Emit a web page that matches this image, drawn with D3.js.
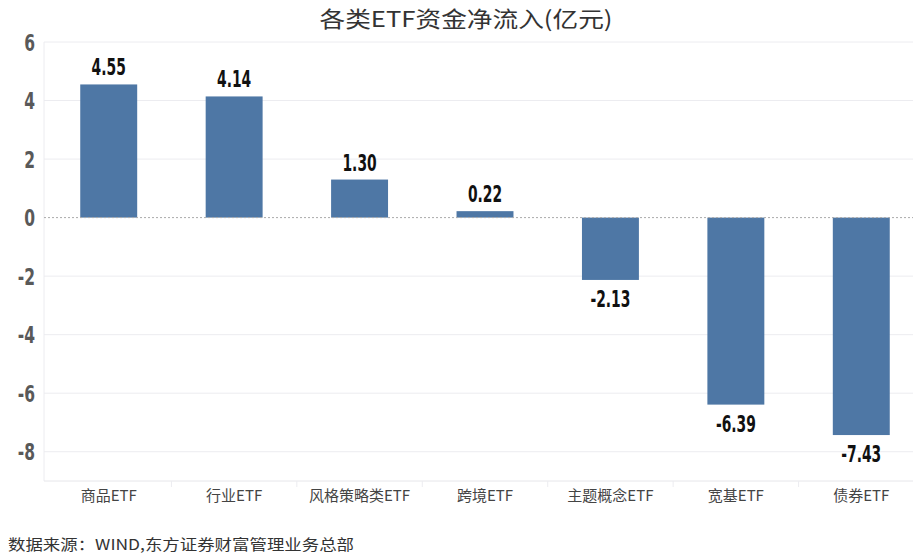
<!DOCTYPE html>
<html>
<head>
<meta charset="utf-8">
<script src="https://cdn.jsdelivr.net/npm/d3@7"></script>
<style>
  body { margin: 0; background: #fff; }
  svg { display: block; }
</style>
</head>
<body>
<div id="chart"></div>
<script>
(function () {
    "use strict";

var categories = ["商品ETF", "行业ETF", "风格策略类ETF", "跨境ETF", "主题概念ETF", "宽基ETF", "债券ETF"],
    values = [4.55, 4.14, 1.30, 0.22, -2.13, -6.39, -7.43],
    yTicks = [-8, -6, -4, -2, 0, 2, 4, 6];

var width = 915,
    height = 556,
    barColor = "#4e77a5",
    numFont = "'DejaVu Sans Condensed', 'DejaVu Sans', sans-serif",
    cjkFont = "'Noto Sans CJK SC', sans-serif";

var svg = d3.select("#chart").append("svg")
    .attr("width", width)
    .attr("height", height);

var x = d3.scaleBand()
    .domain(categories)
    .range([46, 924])
    .paddingInner(0.546)
    .paddingOuter(0.273);

var y = d3.scaleLinear()
    .domain([-9, 6])
    .range([481, 42]);

// title
svg.append("text")
    .attr("x", 466)
    .attr("y", 27)
    .attr("text-anchor", "middle")
    .attr("font-family", cjkFont)
    .attr("font-size", 22)
    .attr("fill", "#333")
    .attr("textLength", 293)
    .attr("lengthAdjust", "spacingAndGlyphs")
    .text("各类ETF资金净流入(亿元)");

// grid
svg.append("g")
    .selectAll("line")
    .data(yTicks.filter(function (d) { return d !== 0; }))
    .join("line")
    .attr("x1", 44)
    .attr("x2", 913)
    .attr("y1", function (d) { return y(d); })
    .attr("y2", function (d) { return y(d); })
    .attr("stroke", "#ececf0")
    .attr("stroke-width", 1);

// plot border left + bottom
svg.append("line")
    .attr("x1", 44).attr("x2", 44)
    .attr("y1", y(6)).attr("y2", y(-9))
    .attr("stroke", "#ececf0");
svg.append("line")
    .attr("x1", 44).attr("x2", 913)
    .attr("y1", y(-9)).attr("y2", y(-9))
    .attr("stroke", "#e6e6ea");

// category separators on the bottom
var step = x.step();
svg.append("g")
    .selectAll("line")
    .data(categories.slice(1))
    .join("line")
    .attr("x1", function (d) { return x(d) - x.paddingInner() * step / 2; })
    .attr("x2", function (d) { return x(d) - x.paddingInner() * step / 2; })
    .attr("y1", y(-9))
    .attr("y2", y(-9) + 6)
    .attr("stroke", "#ececf0");

// y tick labels (condensed)
svg.append("g")
    .selectAll("text")
    .data(yTicks)
    .join("text")
    .attr("transform", function (d) { return "translate(35," + (y(d) + 8.5) + ") scale(0.75,1)"; })
    .attr("text-anchor", "end")
    .attr("font-family", numFont)
    .attr("font-weight", "bold")
    .attr("font-size", 23)
    .attr("fill", "#595959")
    .text(function (d) { return d; });

// bars
svg.append("g")
    .selectAll("rect")
    .data(values)
    .join("rect")
    .attr("x", function (d, i) { return x(categories[i]); })
    .attr("width", x.bandwidth())
    .attr("y", function (d) { return y(Math.max(0, d)); })
    .attr("height", function (d) { return Math.abs(y(d) - y(0)); })
    .attr("fill", barColor);

// zero line
svg.append("line")
    .attr("x1", 44).attr("x2", 913)
    .attr("y1", y(0)).attr("y2", y(0))
    .attr("stroke", "#aaa")
    .attr("stroke-dasharray", "2,2");

// value labels
svg.append("g")
    .selectAll("text")
    .data(values)
    .join("text")
    .attr("transform", function (d, i) {
        var cx = x(categories[i]) + x.bandwidth() / 2,
            cy = d >= 0 ? y(d) - 9 : y(d) + 27;
        return "translate(" + cx + "," + cy + ") scale(0.67,1)";
    })
    .attr("text-anchor", "middle")
    .attr("font-family", numFont)
    .attr("font-weight", "bold")
    .attr("font-size", 23)
    .attr("fill", "#111")
    .text(function (d) { return d.toFixed(2); });

// category labels
svg.append("g")
    .selectAll("text")
    .data(categories)
    .join("text")
    .attr("x", function (d) { return x(d) + x.bandwidth() / 2; })
    .attr("y", 501)
    .attr("text-anchor", "middle")
    .attr("font-family", cjkFont)
    .attr("font-size", 15)
    .attr("fill", "#444")
    .text(function (d) { return d; });

// source
svg.append("text")
    .attr("x", 8)
    .attr("y", 550)
    .attr("font-family", cjkFont)
    .attr("font-size", 15)
    .attr("fill", "#333")
    .attr("textLength", 346)
    .attr("lengthAdjust", "spacingAndGlyphs")
    .text("数据来源：WIND,东方证券财富管理业务总部");

})();
</script>
</body>
</html>
